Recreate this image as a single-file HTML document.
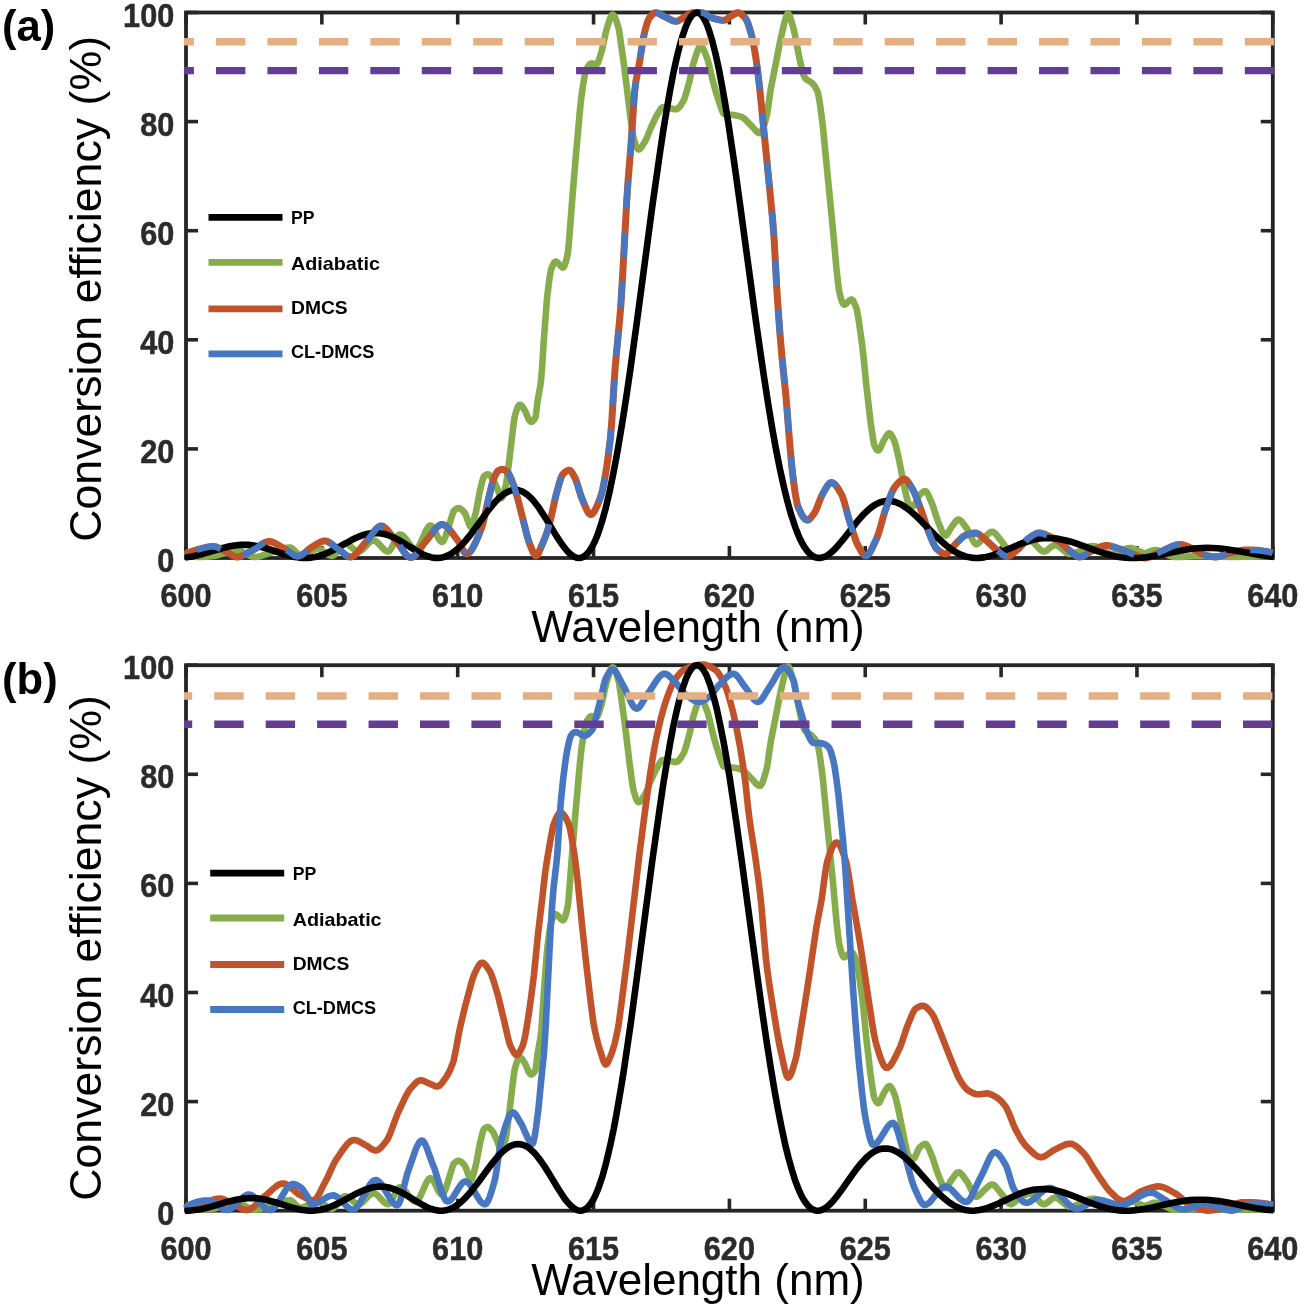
<!DOCTYPE html>
<html><head><meta charset="utf-8"><title>Conversion efficiency</title>
<style>
html,body{margin:0;padding:0;background:#fff;}
svg{display:block;}
.tk{font-family:"Liberation Sans",sans-serif;font-weight:bold;font-size:33px;fill:#2b2b2b;stroke:#2b2b2b;stroke-width:0.5px;}
.lg{font-family:"Liberation Sans",sans-serif;font-weight:bold;font-size:19px;fill:#000;}
.yl{font-family:"Liberation Sans",sans-serif;font-size:44.7px;fill:#000;}
.xl{font-family:"Liberation Sans",sans-serif;font-size:44px;fill:#000;}
.pl{font-family:"Liberation Sans",sans-serif;font-weight:bold;font-size:45px;fill:#000;}
</style></head><body>
<svg width="1300" height="1306" viewBox="0 0 1300 1306">
<rect width="1300" height="1306" fill="#fff"/>
<rect x="186.0" y="12.5" width="1086.8" height="545.5" fill="none" stroke="#262626" stroke-width="3.8"/>
<line x1="186.0" y1="558.00" x2="198.0" y2="558.00" stroke="#262626" stroke-width="3.6"/>
<line x1="1272.8" y1="558.00" x2="1260.8" y2="558.00" stroke="#262626" stroke-width="3.6"/>
<line x1="186.0" y1="448.90" x2="198.0" y2="448.90" stroke="#262626" stroke-width="3.6"/>
<line x1="1272.8" y1="448.90" x2="1260.8" y2="448.90" stroke="#262626" stroke-width="3.6"/>
<line x1="186.0" y1="339.80" x2="198.0" y2="339.80" stroke="#262626" stroke-width="3.6"/>
<line x1="1272.8" y1="339.80" x2="1260.8" y2="339.80" stroke="#262626" stroke-width="3.6"/>
<line x1="186.0" y1="230.70" x2="198.0" y2="230.70" stroke="#262626" stroke-width="3.6"/>
<line x1="1272.8" y1="230.70" x2="1260.8" y2="230.70" stroke="#262626" stroke-width="3.6"/>
<line x1="186.0" y1="121.60" x2="198.0" y2="121.60" stroke="#262626" stroke-width="3.6"/>
<line x1="1272.8" y1="121.60" x2="1260.8" y2="121.60" stroke="#262626" stroke-width="3.6"/>
<line x1="186.0" y1="12.50" x2="198.0" y2="12.50" stroke="#262626" stroke-width="3.6"/>
<line x1="1272.8" y1="12.50" x2="1260.8" y2="12.50" stroke="#262626" stroke-width="3.6"/>
<line x1="186.00" y1="558.0" x2="186.00" y2="546.0" stroke="#262626" stroke-width="3.6"/>
<line x1="186.00" y1="12.5" x2="186.00" y2="24.5" stroke="#262626" stroke-width="3.6"/>
<line x1="321.85" y1="558.0" x2="321.85" y2="546.0" stroke="#262626" stroke-width="3.6"/>
<line x1="321.85" y1="12.5" x2="321.85" y2="24.5" stroke="#262626" stroke-width="3.6"/>
<line x1="457.70" y1="558.0" x2="457.70" y2="546.0" stroke="#262626" stroke-width="3.6"/>
<line x1="457.70" y1="12.5" x2="457.70" y2="24.5" stroke="#262626" stroke-width="3.6"/>
<line x1="593.55" y1="558.0" x2="593.55" y2="546.0" stroke="#262626" stroke-width="3.6"/>
<line x1="593.55" y1="12.5" x2="593.55" y2="24.5" stroke="#262626" stroke-width="3.6"/>
<line x1="729.40" y1="558.0" x2="729.40" y2="546.0" stroke="#262626" stroke-width="3.6"/>
<line x1="729.40" y1="12.5" x2="729.40" y2="24.5" stroke="#262626" stroke-width="3.6"/>
<line x1="865.25" y1="558.0" x2="865.25" y2="546.0" stroke="#262626" stroke-width="3.6"/>
<line x1="865.25" y1="12.5" x2="865.25" y2="24.5" stroke="#262626" stroke-width="3.6"/>
<line x1="1001.10" y1="558.0" x2="1001.10" y2="546.0" stroke="#262626" stroke-width="3.6"/>
<line x1="1001.10" y1="12.5" x2="1001.10" y2="24.5" stroke="#262626" stroke-width="3.6"/>
<line x1="1136.95" y1="558.0" x2="1136.95" y2="546.0" stroke="#262626" stroke-width="3.6"/>
<line x1="1136.95" y1="12.5" x2="1136.95" y2="24.5" stroke="#262626" stroke-width="3.6"/>
<line x1="1272.80" y1="558.0" x2="1272.80" y2="546.0" stroke="#262626" stroke-width="3.6"/>
<line x1="1272.80" y1="12.5" x2="1272.80" y2="24.5" stroke="#262626" stroke-width="3.6"/>
<text class="tk" transform="translate(174.3,572.00) scale(0.93,1)" text-anchor="end">0</text>
<text class="tk" transform="translate(174.3,462.90) scale(0.93,1)" text-anchor="end">20</text>
<text class="tk" transform="translate(174.3,353.80) scale(0.93,1)" text-anchor="end">40</text>
<text class="tk" transform="translate(174.3,244.70) scale(0.93,1)" text-anchor="end">60</text>
<text class="tk" transform="translate(174.3,135.60) scale(0.93,1)" text-anchor="end">80</text>
<text class="tk" transform="translate(174.3,26.50) scale(0.93,1)" text-anchor="end">100</text>
<text class="tk" transform="translate(186.00,607.00) scale(0.93,1)" text-anchor="middle">600</text>
<text class="tk" transform="translate(321.85,607.00) scale(0.93,1)" text-anchor="middle">605</text>
<text class="tk" transform="translate(457.70,607.00) scale(0.93,1)" text-anchor="middle">610</text>
<text class="tk" transform="translate(593.55,607.00) scale(0.93,1)" text-anchor="middle">615</text>
<text class="tk" transform="translate(729.40,607.00) scale(0.93,1)" text-anchor="middle">620</text>
<text class="tk" transform="translate(865.25,607.00) scale(0.93,1)" text-anchor="middle">625</text>
<text class="tk" transform="translate(1001.10,607.00) scale(0.93,1)" text-anchor="middle">630</text>
<text class="tk" transform="translate(1136.95,607.00) scale(0.93,1)" text-anchor="middle">635</text>
<text class="tk" transform="translate(1272.80,607.00) scale(0.93,1)" text-anchor="middle">640</text>
<path d="M185.0,552.0 189.8,554.7 193.5,556.2 195.2,556.7 196.8,556.9 200.2,557.0 207.0,556.6 215.0,555.7 219.2,554.7 227.5,552.2 230.8,551.3 234.2,550.7 237.5,550.5 239.5,550.8 241.8,551.6 248.8,555.2 251.2,556.3 253.5,556.9 255.8,557.0 258.2,556.7 261.2,555.9 268.0,553.6 272.8,552.2 280.0,549.6 283.2,548.5 286.8,547.8 290.0,547.5 291.0,547.7 292.2,548.5 293.5,549.6 297.2,553.6 298.5,554.5 299.5,554.9 301.2,554.9 303.5,554.4 306.0,553.4 311.5,550.8 313.8,549.8 316.2,549.2 318.2,549.0 319.8,549.3 321.5,550.1 323.2,551.2 327.2,554.1 329.0,555.2 330.8,555.8 332.2,556.0 333.5,555.5 335.0,554.3 336.8,552.2 341.2,546.0 342.8,544.5 344.0,543.7 344.8,543.5 345.5,543.5 346.5,543.8 347.5,544.2 349.5,545.6 353.8,549.2 355.5,550.5 357.2,551.3 358.2,551.5 359.0,551.5 359.8,551.3 360.8,550.8 362.5,549.6 364.2,547.9 368.2,543.6 370.2,541.8 372.0,540.8 373.5,540.5 375.0,540.8 376.5,541.7 378.5,543.5 382.8,548.2 384.5,549.9 386.2,551.1 387.2,551.4 388.0,551.5 388.5,551.4 389.2,551.0 390.5,549.6 392.0,547.1 395.5,539.9 397.0,537.2 398.5,535.2 399.2,534.7 400.0,534.5 401.0,534.7 402.0,535.1 403.0,535.9 404.0,536.8 406.0,539.2 410.2,545.0 412.5,547.4 414.2,548.7 415.2,549.0 416.0,549.0 416.8,548.7 417.5,548.0 419.0,546.0 421.0,542.1 424.8,533.4 426.5,529.7 428.2,527.0 429.2,526.0 430.0,525.6 430.8,525.5 431.5,525.9 432.2,526.5 433.0,527.5 434.5,530.1 438.2,537.9 440.0,540.7 441.0,541.6 441.8,542.0 442.2,542.0 443.0,541.5 443.5,540.8 444.2,539.5 445.8,535.8 453.2,511.9 453.8,511.0 455.5,509.4 457.0,508.5 458.5,508.1 459.8,508.3 461.2,509.2 462.8,510.6 465.0,513.3 466.2,516.1 468.5,522.8 469.5,525.3 470.0,526.2 470.5,526.8 471.0,527.0 471.5,526.7 472.2,525.4 473.0,523.2 475.8,512.6 477.0,506.6 479.8,491.4 481.8,483.0 483.2,477.9 483.8,476.8 484.2,476.2 486.0,474.8 486.8,474.5 487.5,474.3 488.0,474.3 488.8,474.6 490.2,475.9 492.8,478.9 494.2,481.6 497.2,488.2 499.5,494.6 500.5,496.9 501.2,497.8 501.8,497.9 502.2,497.4 503.0,495.9 504.0,492.7 505.5,486.8 506.8,479.6 509.2,460.6 513.5,424.7 514.5,417.7 515.0,415.4 516.5,410.4 517.5,407.7 518.2,406.1 518.8,405.4 519.2,404.9 520.0,404.7 521.0,405.2 522.2,406.4 525.2,411.0 528.5,418.9 530.0,421.0 530.8,421.7 531.2,421.8 531.8,421.7 533.0,420.9 534.2,419.5 535.5,417.2 536.0,414.5 537.5,401.4 540.2,386.5 541.2,378.6 542.0,368.9 543.8,340.8 546.5,304.8 547.2,296.8 548.5,286.0 549.5,278.3 550.5,272.2 551.2,269.1 553.0,264.7 554.2,262.5 554.8,262.0 555.2,261.7 555.8,261.6 556.2,261.7 557.2,262.3 558.2,263.3 560.5,265.9 561.8,267.1 562.5,267.4 563.0,267.5 563.2,267.4 563.8,267.0 564.5,265.7 565.5,262.9 567.0,257.1 567.8,253.3 568.5,247.2 569.2,239.1 572.0,202.5 575.5,159.9 579.8,111.9 580.8,101.9 581.8,93.5 584.2,78.1 585.2,73.2 586.2,69.7 587.0,68.0 589.0,65.1 590.2,63.9 591.0,63.5 591.5,63.4 592.8,63.5 595.8,64.2 596.8,64.2 597.5,63.5 598.2,62.0 599.5,58.4 602.0,50.0 605.5,33.7 606.5,29.7 609.5,20.1 610.5,17.5 611.2,15.9 612.0,14.9 612.8,14.6 613.5,15.0 614.5,16.3 615.5,18.5 616.5,21.3 618.5,28.0 619.0,30.1 620.2,37.7 624.0,65.2 626.5,84.8 629.5,110.2 631.8,127.3 632.8,134.0 633.8,138.8 636.0,145.8 636.8,147.5 637.5,148.7 638.2,149.4 638.8,149.5 639.8,149.1 641.0,147.8 642.2,146.1 645.0,141.6 646.8,137.9 650.5,128.6 655.2,118.4 657.8,113.7 660.5,109.2 661.5,107.9 662.2,107.4 664.2,107.5 670.2,108.3 674.5,109.2 675.8,109.3 676.5,109.2 677.8,108.6 679.2,107.2 680.8,105.2 682.5,102.4 683.8,100.2 684.5,98.5 686.2,93.1 689.8,79.8 693.2,64.3 696.5,53.6 697.8,50.0 698.8,47.8 699.8,46.4 700.5,46.1 701.0,46.2 701.8,46.8 702.5,47.7 703.2,49.0 704.8,52.3 707.5,59.4 709.0,64.7 712.8,80.7 716.0,92.3 717.8,97.9 721.2,108.4 722.2,111.1 723.2,113.1 724.0,113.9 724.5,114.1 727.2,114.5 732.8,114.9 735.2,115.2 739.0,116.1 742.2,117.2 743.8,118.2 745.8,120.0 749.8,124.2 752.2,126.6 755.8,130.6 757.2,132.0 758.2,132.7 759.2,133.1 760.0,133.2 760.8,132.8 761.2,132.2 762.0,130.9 763.2,127.8 764.8,122.9 766.8,115.4 767.8,109.8 769.8,95.2 771.0,87.7 776.2,61.6 780.2,41.0 784.2,23.5 785.5,18.6 786.8,15.0 787.5,13.8 788.0,13.6 788.5,13.8 789.0,14.4 789.5,15.3 790.2,17.3 791.2,20.5 793.8,29.7 795.0,35.4 798.8,55.2 802.0,69.5 803.0,73.3 803.8,75.6 804.8,77.6 806.0,79.0 807.5,80.2 810.2,81.7 811.5,82.6 813.0,84.0 814.5,85.9 816.0,88.3 817.2,91.0 817.8,92.4 818.5,95.6 819.5,101.1 820.5,107.9 822.2,121.0 823.0,127.6 825.8,156.6 833.2,232.1 836.5,269.0 838.0,282.5 839.0,290.1 839.8,293.9 841.2,299.3 842.2,302.2 843.2,304.0 844.0,304.6 844.5,304.6 845.2,304.3 846.5,303.3 848.8,301.0 849.8,300.1 850.8,299.6 851.2,299.5 851.8,299.6 852.2,299.9 853.0,300.7 854.2,302.9 856.2,307.8 857.0,310.3 858.5,318.9 862.0,343.7 863.5,356.5 866.2,384.2 870.5,421.5 872.8,437.4 874.0,444.1 874.5,445.6 875.0,446.7 876.5,449.3 877.5,450.3 878.0,450.5 878.5,450.4 879.2,449.9 880.0,448.7 883.8,440.4 886.5,435.9 887.8,434.2 888.8,433.4 889.2,433.3 889.8,433.4 890.8,434.3 891.8,435.7 893.0,438.1 894.5,441.4 896.0,446.5 898.8,458.6 904.8,489.3 907.2,499.5 908.0,501.9 908.8,503.3 910.2,504.6 911.8,505.5 913.2,505.9 914.0,505.7 914.5,505.3 915.2,504.1 918.2,497.1 919.5,495.0 921.8,492.9 923.2,491.8 924.8,491.2 925.2,491.2 925.8,491.3 926.5,491.9 927.2,492.9 928.2,494.7 929.2,496.9 933.0,506.1 936.5,517.2 938.0,521.4 942.2,531.7 943.5,533.9 944.2,534.8 944.8,535.3 945.5,535.5 946.0,535.4 946.5,535.1 947.2,534.2 948.2,532.7 951.0,527.8 956.0,521.0 956.8,520.3 957.5,519.8 958.2,519.5 959.0,519.6 960.2,520.2 961.8,521.6 967.0,528.8 968.5,531.5 971.8,538.4 973.0,540.8 974.2,542.7 975.5,543.9 976.0,544.1 976.8,544.1 977.5,543.8 978.2,543.3 979.5,542.2 983.0,538.5 988.8,533.4 990.0,532.5 991.0,532.0 992.0,531.8 992.8,531.8 993.5,532.1 994.2,532.6 995.2,533.4 996.2,534.5 999.8,539.1 1002.2,542.0 1006.0,547.5 1007.8,549.7 1009.2,551.0 1010.5,551.5 1011.2,551.5 1012.0,551.3 1013.5,550.4 1015.0,549.1 1018.5,545.6 1020.2,544.3 1023.8,542.7 1026.0,541.8 1028.0,541.2 1030.0,541.0 1031.5,541.3 1033.2,542.4 1035.0,544.1 1040.0,549.4 1041.5,550.6 1043.0,551.3 1043.8,551.5 1044.5,551.5 1046.0,550.9 1047.5,549.9 1051.0,547.0 1052.5,545.9 1054.0,545.2 1054.8,545.0 1055.5,545.0 1057.2,545.5 1059.0,546.6 1060.8,548.0 1064.8,551.5 1066.5,552.8 1068.2,553.7 1069.8,554.0 1072.2,553.8 1074.8,553.1 1077.8,551.9 1084.5,548.5 1087.2,547.2 1090.2,546.3 1093.0,546.0 1095.0,546.2 1097.2,547.0 1099.8,548.3 1104.8,551.4 1107.0,552.6 1109.2,553.5 1111.5,554.0 1113.5,553.9 1115.8,553.3 1118.2,552.3 1123.2,549.9 1125.5,548.9 1127.8,548.3 1130.0,548.0 1131.5,548.1 1133.2,548.6 1135.2,549.4 1141.0,552.1 1142.8,552.7 1144.2,553.0 1145.5,553.0 1147.0,552.7 1152.0,550.6 1153.8,550.1 1155.2,550.0 1157.2,550.2 1159.0,550.7 1161.0,551.5 1167.8,554.9 1170.0,555.9 1172.2,556.6 1174.5,557.0 1180.2,556.9 1193.2,556.2 1199.0,556.0 1206.0,556.1 1222.5,556.8 1230.0,557.0 1252.8,556.8 1262.8,556.4 1272.0,556.0" fill="none" stroke="#86AC4C" stroke-width="6.6" stroke-linejoin="round"/>
<path d="M185.0,554.0 192.0,551.4 198.5,549.4 208.0,547.0 211.0,546.6 213.5,546.5 214.8,546.7 216.2,547.0 219.8,548.5 226.2,551.6 231.8,555.1 234.0,556.3 235.2,556.7 236.2,557.0 238.5,556.9 240.0,556.6 241.5,556.1 245.2,554.3 255.0,548.9 261.5,544.5 264.2,542.8 265.8,542.2 267.0,541.8 269.2,541.5 270.8,541.7 272.2,542.0 275.5,543.4 286.2,549.7 292.0,554.0 294.0,555.2 295.2,555.9 296.5,556.3 297.5,556.5 298.5,556.5 300.2,556.0 302.2,554.9 304.2,553.4 308.5,549.6 310.5,548.0 317.8,543.5 320.0,542.3 321.8,541.6 323.5,541.1 325.0,541.0 326.2,541.1 327.5,541.5 328.8,542.1 330.2,543.1 336.2,547.8 339.8,550.2 344.5,554.2 346.5,555.6 347.8,556.3 349.0,556.8 350.0,557.0 351.0,557.0 352.2,556.6 353.8,555.8 355.2,554.7 357.0,552.9 364.0,544.2 368.0,539.7 374.0,531.6 376.5,528.6 377.8,527.5 379.0,526.6 380.2,526.1 381.2,526.0 382.8,526.3 384.2,527.1 385.8,528.4 387.5,530.2 394.0,538.7 397.8,543.1 403.8,551.7 406.5,555.1 407.8,556.2 409.0,557.0 410.2,557.5 411.2,557.5 412.5,557.1 413.8,556.4 415.0,555.3 416.5,553.7 418.5,551.1 424.0,543.4 428.0,538.7 433.8,531.0 436.2,528.0 437.8,526.5 439.2,525.4 440.8,524.7 442.0,524.5 443.8,524.8 445.5,525.7 447.2,527.1 449.2,529.2 451.8,532.4 459.0,542.3 460.2,544.5 463.2,550.5 464.5,552.5 465.2,553.3 465.8,553.7 466.5,553.9 467.2,553.8 468.5,553.2 470.0,551.9 471.5,550.0 473.2,547.2 475.0,543.7 476.8,539.8 481.8,527.3 482.8,524.1 484.0,519.2 487.8,502.1 491.8,485.1 493.0,480.7 494.0,478.0 495.8,474.1 496.5,472.7 497.2,471.7 498.0,471.0 499.5,470.1 500.8,469.6 501.8,469.3 503.0,469.4 504.2,469.8 505.8,470.8 507.8,472.4 508.5,473.4 509.5,475.1 511.5,479.7 514.5,487.8 517.8,498.9 527.2,536.1 528.8,541.4 529.8,544.4 533.0,552.2 534.2,554.5 535.0,555.3 535.5,555.7 536.2,555.8 537.0,555.3 537.8,554.4 538.5,553.0 543.5,541.6 545.8,535.7 547.8,529.8 549.2,524.6 550.8,518.4 555.8,495.9 560.0,480.8 561.2,477.2 562.5,474.6 564.0,473.0 565.8,471.6 566.8,470.9 567.8,470.5 568.8,470.2 569.5,470.2 570.0,470.4 570.8,471.0 572.0,472.6 573.8,475.7 575.8,479.6 577.0,483.1 579.8,492.3 581.0,496.1 585.2,506.5 587.2,510.8 588.8,513.2 589.5,513.9 590.2,514.4 591.0,514.5 591.8,514.3 592.5,513.7 593.2,513.0 594.2,511.6 595.5,509.3 597.0,506.1 598.5,502.4 600.8,496.3 601.8,492.9 602.8,488.8 604.5,480.2 606.5,468.2 608.5,453.9 610.5,437.2 611.8,421.4 614.2,381.3 615.2,367.0 616.5,352.7 619.2,324.5 620.8,306.1 622.5,278.0 627.0,196.4 628.2,179.1 631.2,142.4 633.8,102.6 634.5,93.0 635.0,88.6 636.2,79.8 639.5,62.4 643.2,38.8 644.2,33.9 646.2,26.0 647.8,21.2 648.5,19.4 649.2,18.2 651.2,15.6 652.8,14.1 654.2,13.1 655.0,12.8 655.8,12.7 657.2,12.9 659.0,13.6 663.2,15.9 672.0,20.4 674.0,21.1 676.0,21.3 677.5,21.1 679.2,20.3 690.0,13.7 691.2,13.1 692.5,12.7 701.5,12.7 702.8,12.9 705.0,13.8 710.2,17.2 712.5,18.2 719.0,19.8 721.2,20.2 723.5,20.3 725.0,20.0 726.5,19.3 731.0,16.2 735.8,13.3 737.2,12.7 738.5,12.8 740.0,13.3 741.8,14.5 743.8,16.4 746.0,19.1 747.0,21.0 748.0,23.4 750.2,30.4 752.2,37.9 754.2,47.9 756.0,58.6 757.8,71.9 759.8,89.4 770.0,192.2 772.8,221.5 774.2,240.7 777.0,292.1 778.5,314.3 780.0,334.1 782.0,357.4 786.0,396.6 789.2,437.1 791.2,460.1 792.5,472.9 793.5,481.0 795.2,493.4 796.5,500.7 797.5,505.1 798.0,506.7 798.8,508.5 801.2,513.8 803.2,517.1 805.0,519.0 805.8,519.6 806.5,519.9 807.2,520.1 808.0,520.0 808.8,519.7 809.5,519.2 811.5,517.0 814.5,512.9 815.5,511.1 817.0,507.7 820.2,499.1 821.8,495.6 822.5,494.1 827.0,486.4 828.8,484.1 829.5,483.3 830.2,482.8 831.0,482.5 831.8,482.5 832.5,482.7 833.2,483.1 834.2,483.8 835.2,484.7 837.5,487.6 841.2,493.7 842.5,496.4 844.5,502.7 848.0,515.8 849.5,521.0 854.8,537.4 856.2,541.6 857.5,544.5 861.0,550.9 862.2,552.9 863.2,554.2 864.2,555.2 865.0,555.6 865.8,555.8 866.8,555.6 867.8,555.0 868.8,553.9 869.8,552.6 871.0,550.5 873.2,546.0 877.5,536.5 879.5,530.4 883.5,515.9 885.0,511.0 890.0,497.1 891.5,493.3 893.0,490.0 894.0,488.2 895.0,486.7 897.5,483.8 899.5,481.8 901.0,480.6 902.2,479.8 903.5,479.3 904.8,479.2 905.5,479.4 906.5,480.1 908.2,482.2 912.8,489.5 914.5,493.0 916.8,498.4 921.5,511.2 926.8,526.9 928.5,531.7 932.5,541.4 934.5,545.6 936.2,548.3 938.5,550.4 941.5,552.6 943.0,553.4 944.2,553.8 945.5,553.9 946.2,553.8 947.2,553.3 948.2,552.6 950.0,550.7 954.8,544.7 960.8,538.7 963.5,536.4 965.2,535.5 969.8,533.9 972.5,533.2 975.0,533.0 976.0,533.1 977.2,533.5 978.5,534.1 979.8,534.9 988.2,542.1 994.8,548.4 997.2,550.6 1003.5,555.1 1005.2,556.0 1006.8,556.4 1008.2,556.3 1009.8,555.7 1011.2,554.8 1013.2,553.2 1018.8,548.6 1025.8,540.9 1027.2,539.4 1028.8,538.2 1033.0,535.3 1035.0,534.2 1037.0,533.3 1039.0,533.0 1041.5,533.3 1044.5,534.2 1052.5,537.7 1057.0,540.1 1059.8,541.8 1061.2,542.9 1068.5,549.8 1074.5,554.5 1077.2,556.3 1078.5,556.8 1079.5,557.0 1081.2,556.8 1083.0,556.2 1084.5,555.4 1089.0,552.5 1099.8,547.0 1103.0,545.9 1105.8,545.5 1107.5,545.6 1109.5,545.8 1114.2,547.1 1122.8,550.0 1132.2,554.0 1140.2,557.0 1142.5,557.7 1144.5,558.0 1145.8,558.0 1147.2,557.7 1150.2,556.8 1158.2,552.8 1162.5,550.9 1169.8,547.4 1173.0,546.0 1176.5,544.9 1179.5,544.5 1181.0,544.5 1182.8,544.8 1184.5,545.3 1186.5,546.0 1196.0,550.5 1201.8,553.6 1204.2,554.8 1209.8,556.3 1213.5,556.9 1216.0,557.0 1218.5,556.6 1221.0,555.9 1226.8,553.9 1229.2,553.2 1239.5,550.8 1242.5,550.3 1245.0,550.1 1252.5,550.1 1260.0,550.6 1266.5,551.5 1272.5,553.0" fill="none" stroke="#C0532A" stroke-width="7.0" stroke-linejoin="round"/>
<path d="M185.0,557.6 191.8,556.6 198.8,555.1 205.5,553.2 221.0,548.5 228.8,546.5 232.8,545.8 236.8,545.2 240.5,544.9 244.2,544.7 248.2,544.9 252.2,545.3 256.5,545.9 260.8,546.8 268.5,549.0 286.0,554.8 290.5,556.0 294.8,557.0 299.0,557.6 303.2,558.0 307.2,558.0 311.2,557.6 315.0,557.0 319.0,556.0 323.0,554.7 327.2,553.0 331.0,551.2 335.0,549.2 352.0,539.8 356.2,537.8 360.2,536.1 364.2,534.7 368.0,533.8 371.8,533.2 375.5,533.0 379.8,533.2 384.0,534.0 388.2,535.2 392.8,537.0 396.5,538.8 400.8,541.2 414.0,549.4 418.5,552.1 422.8,554.3 426.8,556.0 430.8,557.2 434.8,557.9 438.5,558.0 442.0,557.5 444.5,556.9 447.0,555.9 449.2,554.8 451.8,553.4 454.2,551.6 456.8,549.6 459.2,547.4 461.8,544.9 466.0,540.2 470.8,534.3 475.2,528.3 485.5,514.1 490.5,507.6 495.2,501.9 499.5,497.6 503.5,494.3 505.5,493.0 507.5,491.9 509.5,491.0 511.2,490.4 513.2,490.0 515.0,489.9 517.2,490.0 519.5,490.5 521.8,491.3 524.0,492.4 526.2,493.9 528.8,496.0 531.0,498.1 533.5,500.8 537.8,506.2 542.2,512.8 546.5,519.5 556.2,535.6 561.2,543.3 563.8,546.7 566.0,549.6 568.2,552.1 570.2,554.0 572.5,555.7 574.8,557.0 577.0,557.8 579.0,558.0 581.2,557.7 583.2,556.9 585.2,555.6 587.2,553.7 589.2,551.3 591.0,548.6 593.0,545.1 594.8,541.5 596.8,536.8 598.5,532.2 602.0,521.5 605.8,507.8 609.5,492.0 613.2,474.1 617.0,454.1 620.2,435.3 623.5,415.2 627.0,392.3 630.5,368.2 637.0,321.1 652.2,207.0 659.8,153.9 663.2,130.9 666.8,109.3 670.0,90.8 673.2,73.9 676.5,58.8 679.5,46.5 682.5,36.1 685.5,27.4 687.0,23.8 688.5,20.7 690.0,18.1 691.2,16.3 692.8,14.6 694.2,13.4 695.8,12.7 697.0,12.5 698.5,12.8 700.0,13.6 701.5,15.0 703.0,17.0 704.5,19.5 706.0,22.5 707.5,26.1 709.2,30.9 712.2,40.8 715.5,53.7 718.8,68.7 722.2,86.9 725.0,102.6 728.0,121.0 734.2,162.6 740.2,205.6 755.5,318.2 759.8,348.3 763.8,375.5 768.0,402.8 772.2,428.3 776.2,450.4 780.0,469.4 783.8,486.5 787.5,501.7 791.0,514.3 794.8,525.8 796.5,530.5 798.5,535.5 800.2,539.3 802.2,543.3 804.0,546.3 806.0,549.3 807.8,551.6 809.8,553.7 811.8,555.4 814.0,556.8 816.2,557.6 818.5,558.0 820.8,557.9 823.2,557.3 825.8,556.2 828.2,554.7 830.5,553.1 832.8,551.1 835.2,548.6 837.8,545.9 843.0,539.7 853.5,526.2 858.2,520.4 863.2,514.7 867.8,510.3 870.5,508.0 873.0,506.1 875.8,504.4 878.2,503.1 880.8,502.1 883.2,501.4 885.8,501.0 888.2,500.8 890.2,500.9 892.2,501.2 894.2,501.7 896.5,502.4 900.8,504.3 905.2,507.1 910.0,510.6 915.2,515.2 920.8,520.6 932.5,532.6 937.8,537.8 943.2,542.9 948.2,547.0 951.2,549.2 954.2,551.1 957.2,552.9 960.0,554.2 962.8,555.4 965.5,556.3 968.2,557.1 971.2,557.6 975.2,558.0 979.5,557.9 984.0,557.4 988.5,556.4 993.0,555.1 998.0,553.3 1003.2,551.2 1018.5,544.7 1023.5,542.8 1028.0,541.3 1033.2,539.8 1038.2,538.8 1043.2,538.2 1048.0,538.0 1052.2,538.2 1056.8,538.6 1061.2,539.4 1066.0,540.4 1070.8,541.7 1076.0,543.4 1096.8,550.9 1106.0,553.9 1111.0,555.3 1116.0,556.4 1121.0,557.2 1125.8,557.7 1130.5,558.0 1135.5,558.0 1140.5,557.7 1145.8,557.2 1150.8,556.5 1156.2,555.6 1177.5,551.2 1187.0,549.6 1192.2,548.8 1197.2,548.3 1202.2,548.0 1207.2,547.9 1212.2,548.0 1217.2,548.2 1222.5,548.7 1228.0,549.4 1237.8,550.9 1261.2,555.2 1267.5,556.1 1273.5,556.9" fill="none" stroke="#000000" stroke-width="6.6" stroke-linejoin="round"/>
<path d="M185.0,554.0 192.0,551.4 198.5,549.4 208.0,547.0 211.0,546.6 213.5,546.5 214.8,546.7 216.2,547.0 219.8,548.5 226.2,551.6 231.8,555.1 234.0,556.3 235.2,556.7 236.2,557.0 238.5,556.9 240.0,556.6 241.5,556.1 245.2,554.3 255.0,548.9 261.5,544.5 264.2,542.8 265.8,542.2 267.0,541.8 269.2,541.5 270.8,541.7 272.2,542.0 275.5,543.4 286.2,549.7 292.0,554.0 294.0,555.2 295.2,555.9 296.5,556.3 297.5,556.5 298.5,556.5 300.2,556.0 302.2,554.9 304.2,553.4 308.5,549.6 310.5,548.0 317.8,543.5 320.0,542.3 321.8,541.6 323.5,541.1 325.0,541.0 326.2,541.1 327.5,541.5 328.8,542.1 330.2,543.1 336.2,547.8 339.8,550.2 344.5,554.2 346.5,555.6 347.8,556.3 349.0,556.8 350.0,557.0 351.0,557.0 352.2,556.6 353.8,555.8 355.2,554.7 357.0,552.9 364.0,544.2 368.0,539.7 374.0,531.6 376.5,528.6 377.8,527.5 379.0,526.6 380.2,526.1 381.2,526.0 382.8,526.3 384.2,527.1 385.8,528.4 387.5,530.2 394.0,538.7 397.8,543.1 403.8,551.7 406.5,555.1 407.8,556.2 409.0,557.0 410.2,557.5 411.2,557.5 412.5,557.1 413.8,556.4 415.0,555.3 416.5,553.7 418.5,551.1 424.0,543.4 428.0,538.7 433.8,531.0 436.2,528.0 437.8,526.5 439.2,525.4 440.8,524.7 442.0,524.5 443.8,524.8 445.8,525.9 447.8,527.6 450.0,530.1 459.0,542.3 460.2,544.5 463.8,551.3 465.0,553.1 466.0,553.8" fill="none" stroke="#4677C0" stroke-width="6.4" stroke-linejoin="round" stroke-dasharray="24.9 24.30" stroke-dashoffset="36.71"/>
<path d="M466.0,553.8 466.5,553.9 467.2,553.8 468.5,553.2 469.8,552.2 471.2,550.4 472.8,548.1 474.2,545.3 477.8,537.5 481.8,527.3 483.0,523.2 484.2,518.1 487.5,503.2 491.2,487.2 492.2,483.2 493.2,479.9 495.2,475.1 496.2,473.2 497.0,472.0 497.5,471.4 498.2,470.9 499.5,470.1 500.8,469.6 502.2,469.3 503.8,469.6 505.5,470.6 507.5,472.2 508.2,473.0 509.0,474.2 511.0,478.5 514.5,487.8 517.8,498.9 527.2,536.1 529.0,542.2 530.0,545.0 533.0,552.2 534.2,554.5 535.0,555.3 535.5,555.7 536.2,555.8 537.0,555.3 537.8,554.4 538.5,553.0 543.5,541.6 545.8,535.7 547.8,529.8 549.2,524.6 550.8,518.4 555.8,495.9 560.0,480.8 561.2,477.2 562.2,475.0 563.0,474.0 565.5,471.7 566.8,470.9 567.8,470.5 568.8,470.2 569.5,470.2 570.2,470.6 571.0,471.3 572.5,473.4 575.2,478.5 576.0,480.2 577.2,483.9 580.8,495.4 586.0,508.3 587.5,511.3 588.8,513.2 590.0,514.3 590.5,514.5 591.0,514.5" fill="none" stroke="#4677C0" stroke-width="6.4" stroke-linejoin="round" stroke-dasharray="24.9 24.30" stroke-dashoffset="45.47"/>
<path d="M591.0,514.5 592.0,514.1 593.2,513.0 594.5,511.2 595.8,508.8 597.5,504.9 600.0,498.5 601.0,495.5 602.0,491.9 604.0,482.9 606.0,471.4 608.0,457.7 610.2,439.6 611.0,431.6 611.8,421.4 614.2,381.3 615.2,367.0 616.5,352.7 619.5,321.7 621.0,302.6 624.0,251.5 626.5,204.5 628.0,182.4" fill="none" stroke="#4677C0" stroke-width="6.4" stroke-linejoin="round" stroke-dasharray="24.9 24.30" stroke-dashoffset="34.02"/>
<path d="M628.0,182.4 631.5,139.0 634.0,99.1 634.5,93.0 635.2,86.6 636.5,78.4 639.5,62.4 642.5,43.2 643.8,36.2 645.5,28.8 647.0,23.4 648.2,20.0 649.2,18.2 651.2,15.6 653.0,13.9 654.0,13.2 654.8,12.9 655.5,12.7 656.2,12.7 657.5,13.0 659.0,13.6 663.2,15.9 672.0,20.4 674.5,21.2 676.5,21.3 678.0,20.9 679.8,20.1 689.5,14.0 691.5,13.0 693.0,12.7 701.8,12.7 703.2,13.0 704.8,13.6 710.2,17.2 712.5,18.2 719.0,19.8 721.5,20.2 723.8,20.3 725.0,20.0 726.2,19.5 731.0,16.2 735.2,13.6 736.5,13.0 737.8,12.7 738.8,12.8 739.8,13.2 741.8,14.5 743.2,15.9 744.8,17.5 745.8,18.7 746.5,19.9 748.2,24.1 750.2,30.4 752.0,36.8 753.5,43.8 755.2,53.7 756.5,62.2 758.2,76.0 759.8,89.4 762.8,120.3 769.2,184.4 773.0,224.4 774.5,244.6 777.0,292.1 779.8,331.0 782.0,357.4 786.0,396.6 789.2,437.1 791.5,462.8 792.8,475.2 795.5,494.9 796.8,501.9 797.8,505.9 800.0,511.3 802.2,515.5 803.2,517.1 804.2,518.3 805.2,519.2 806.0,519.7" fill="none" stroke="#4677C0" stroke-width="6.4" stroke-linejoin="round" stroke-dasharray="24.9 24.30" stroke-dashoffset="22.13"/>
<path d="M806.0,519.7 807.0,520.1 807.8,520.1 808.5,519.8 809.5,519.2 811.5,517.0 814.5,512.9 815.5,511.1 816.5,508.9 820.5,498.5 822.0,495.1 826.0,488.1 828.0,485.0 829.5,483.3 830.8,482.6 831.2,482.5 832.0,482.6 833.2,483.1 834.2,483.8 835.2,484.7 837.5,487.6 841.2,493.7 842.5,496.4 844.5,502.7 848.0,515.8 849.5,521.0 854.8,537.4 856.2,541.6 857.5,544.5 861.0,550.9 862.2,552.9 863.2,554.2 864.2,555.2 865.0,555.6 865.8,555.8 866.8,555.6 867.8,555.0 868.8,553.9 869.8,552.6 871.0,550.5 873.2,546.0 877.5,536.5 879.5,530.4 883.5,515.9 885.0,511.0 890.0,497.1 891.5,493.3 893.0,490.0 894.0,488.2 895.0,486.7 897.5,483.8 899.5,481.8 901.0,480.6 902.2,479.8 903.5,479.3 904.8,479.2 905.5,479.4 906.2,479.9 908.0,481.8 910.0,484.9 912.8,489.5 913.8,491.4 916.5,497.8 921.5,511.2 928.2,531.1 932.5,541.4 934.2,545.1 935.8,547.7 936.8,548.9 939.8,551.4 941.8,552.7 943.8,553.6 945.5,553.9 946.2,553.8 947.0,553.5 948.2,552.6 949.5,551.3 954.8,544.7 960.8,538.7 963.2,536.6 965.0,535.6 969.8,533.9 972.8,533.2 975.5,533.0 976.5,533.2 977.8,533.7 979.0,534.4 980.5,535.5 988.2,542.1 996.2,549.7 1001.8,553.9 1003.5,555.1 1004.8,555.8 1006.0,556.3 1007.0,556.4" fill="none" stroke="#4677C0" stroke-width="6.4" stroke-linejoin="round" stroke-dasharray="24.9 24.30" stroke-dashoffset="20.15"/>
<path d="M1007.0,556.4 1008.8,556.1 1010.8,555.1 1012.8,553.7 1017.5,549.7 1020.0,547.3 1026.0,540.6 1028.8,538.2 1033.0,535.3 1035.0,534.2 1037.0,533.3 1039.0,533.0 1041.5,533.3 1044.5,534.2 1052.5,537.7 1057.0,540.1 1059.8,541.8 1061.2,542.9 1068.5,549.8 1074.5,554.5 1077.2,556.3 1078.5,556.8 1079.5,557.0 1081.2,556.8 1083.0,556.2 1084.5,555.4 1089.0,552.5 1099.8,547.0 1103.0,545.9 1105.8,545.5 1107.5,545.6 1109.5,545.8 1114.2,547.1 1122.8,550.0 1132.2,554.0 1140.2,557.0 1142.5,557.7 1144.5,558.0 1145.8,558.0 1147.2,557.7 1150.2,556.8 1158.2,552.8 1162.5,550.9 1169.8,547.4 1173.0,546.0 1176.5,544.9 1179.5,544.5 1181.0,544.5 1182.8,544.8 1184.5,545.3 1186.5,546.0 1196.0,550.5 1201.8,553.6 1204.2,554.8 1209.8,556.3 1213.5,556.9 1216.0,557.0 1218.5,556.6 1221.0,555.9 1226.8,553.9 1229.2,553.2 1239.5,550.8 1242.5,550.3 1245.0,550.1 1252.5,550.1 1260.0,550.6 1266.5,551.5 1272.5,553.0" fill="none" stroke="#4677C0" stroke-width="6.4" stroke-linejoin="round" stroke-dasharray="24.9 24.30" stroke-dashoffset="25.13"/>
<line x1="184.0" y1="41.70" x2="1274.3" y2="41.70" stroke="#E4AF82" stroke-width="7.4" stroke-dasharray="29.4 22.04" stroke-dashoffset="19.44"/>
<line x1="184.0" y1="70.60" x2="1274.3" y2="70.60" stroke="#643C96" stroke-width="7.4" stroke-dasharray="29.4 22.04" stroke-dashoffset="19.44"/>
<line x1="208.5" y1="217.40" x2="282.5" y2="217.40" stroke="#000000" stroke-width="6.8"/>
<text class="lg" transform="translate(291.0,224.20) scale(0.93,1)">PP</text>
<line x1="208.5" y1="262.30" x2="282.5" y2="262.30" stroke="#86AC4C" stroke-width="6.8"/>
<text class="lg" transform="translate(291.0,269.80) scale(1.04,1)">Adiabatic</text>
<line x1="208.5" y1="308.80" x2="282.5" y2="308.80" stroke="#C0532A" stroke-width="6.8"/>
<text class="lg" transform="translate(291.0,314.20) scale(1.013,1)">DMCS</text>
<line x1="208.5" y1="353.80" x2="282.5" y2="353.80" stroke="#4677C0" stroke-width="6.8"/>
<text class="lg" transform="translate(291.0,357.90) scale(0.953,1)">CL-DMCS</text>
<text class="yl" transform="translate(100.5,288.90) rotate(-90)" text-anchor="middle">Conversion efficiency (%)</text>
<text class="xl" x="698" y="642.00" text-anchor="middle">Wavelength (nm)</text>
<text class="pl" transform="translate(2,41.00) scale(0.97,1)">(a)</text>
<rect x="186.0" y="665.2" width="1086.8" height="545.5" fill="none" stroke="#262626" stroke-width="3.8"/>
<line x1="186.0" y1="1210.70" x2="198.0" y2="1210.70" stroke="#262626" stroke-width="3.6"/>
<line x1="1272.8" y1="1210.70" x2="1260.8" y2="1210.70" stroke="#262626" stroke-width="3.6"/>
<line x1="186.0" y1="1101.60" x2="198.0" y2="1101.60" stroke="#262626" stroke-width="3.6"/>
<line x1="1272.8" y1="1101.60" x2="1260.8" y2="1101.60" stroke="#262626" stroke-width="3.6"/>
<line x1="186.0" y1="992.50" x2="198.0" y2="992.50" stroke="#262626" stroke-width="3.6"/>
<line x1="1272.8" y1="992.50" x2="1260.8" y2="992.50" stroke="#262626" stroke-width="3.6"/>
<line x1="186.0" y1="883.40" x2="198.0" y2="883.40" stroke="#262626" stroke-width="3.6"/>
<line x1="1272.8" y1="883.40" x2="1260.8" y2="883.40" stroke="#262626" stroke-width="3.6"/>
<line x1="186.0" y1="774.30" x2="198.0" y2="774.30" stroke="#262626" stroke-width="3.6"/>
<line x1="1272.8" y1="774.30" x2="1260.8" y2="774.30" stroke="#262626" stroke-width="3.6"/>
<line x1="186.0" y1="665.20" x2="198.0" y2="665.20" stroke="#262626" stroke-width="3.6"/>
<line x1="1272.8" y1="665.20" x2="1260.8" y2="665.20" stroke="#262626" stroke-width="3.6"/>
<line x1="186.00" y1="1210.7" x2="186.00" y2="1198.7" stroke="#262626" stroke-width="3.6"/>
<line x1="186.00" y1="665.2" x2="186.00" y2="677.2" stroke="#262626" stroke-width="3.6"/>
<line x1="321.85" y1="1210.7" x2="321.85" y2="1198.7" stroke="#262626" stroke-width="3.6"/>
<line x1="321.85" y1="665.2" x2="321.85" y2="677.2" stroke="#262626" stroke-width="3.6"/>
<line x1="457.70" y1="1210.7" x2="457.70" y2="1198.7" stroke="#262626" stroke-width="3.6"/>
<line x1="457.70" y1="665.2" x2="457.70" y2="677.2" stroke="#262626" stroke-width="3.6"/>
<line x1="593.55" y1="1210.7" x2="593.55" y2="1198.7" stroke="#262626" stroke-width="3.6"/>
<line x1="593.55" y1="665.2" x2="593.55" y2="677.2" stroke="#262626" stroke-width="3.6"/>
<line x1="729.40" y1="1210.7" x2="729.40" y2="1198.7" stroke="#262626" stroke-width="3.6"/>
<line x1="729.40" y1="665.2" x2="729.40" y2="677.2" stroke="#262626" stroke-width="3.6"/>
<line x1="865.25" y1="1210.7" x2="865.25" y2="1198.7" stroke="#262626" stroke-width="3.6"/>
<line x1="865.25" y1="665.2" x2="865.25" y2="677.2" stroke="#262626" stroke-width="3.6"/>
<line x1="1001.10" y1="1210.7" x2="1001.10" y2="1198.7" stroke="#262626" stroke-width="3.6"/>
<line x1="1001.10" y1="665.2" x2="1001.10" y2="677.2" stroke="#262626" stroke-width="3.6"/>
<line x1="1136.95" y1="1210.7" x2="1136.95" y2="1198.7" stroke="#262626" stroke-width="3.6"/>
<line x1="1136.95" y1="665.2" x2="1136.95" y2="677.2" stroke="#262626" stroke-width="3.6"/>
<line x1="1272.80" y1="1210.7" x2="1272.80" y2="1198.7" stroke="#262626" stroke-width="3.6"/>
<line x1="1272.80" y1="665.2" x2="1272.80" y2="677.2" stroke="#262626" stroke-width="3.6"/>
<text class="tk" transform="translate(174.3,1224.70) scale(0.93,1)" text-anchor="end">0</text>
<text class="tk" transform="translate(174.3,1115.60) scale(0.93,1)" text-anchor="end">20</text>
<text class="tk" transform="translate(174.3,1006.50) scale(0.93,1)" text-anchor="end">40</text>
<text class="tk" transform="translate(174.3,897.40) scale(0.93,1)" text-anchor="end">60</text>
<text class="tk" transform="translate(174.3,788.30) scale(0.93,1)" text-anchor="end">80</text>
<text class="tk" transform="translate(174.3,679.20) scale(0.93,1)" text-anchor="end">100</text>
<text class="tk" transform="translate(186.00,1259.70) scale(0.93,1)" text-anchor="middle">600</text>
<text class="tk" transform="translate(321.85,1259.70) scale(0.93,1)" text-anchor="middle">605</text>
<text class="tk" transform="translate(457.70,1259.70) scale(0.93,1)" text-anchor="middle">610</text>
<text class="tk" transform="translate(593.55,1259.70) scale(0.93,1)" text-anchor="middle">615</text>
<text class="tk" transform="translate(729.40,1259.70) scale(0.93,1)" text-anchor="middle">620</text>
<text class="tk" transform="translate(865.25,1259.70) scale(0.93,1)" text-anchor="middle">625</text>
<text class="tk" transform="translate(1001.10,1259.70) scale(0.93,1)" text-anchor="middle">630</text>
<text class="tk" transform="translate(1136.95,1259.70) scale(0.93,1)" text-anchor="middle">635</text>
<text class="tk" transform="translate(1272.80,1259.70) scale(0.93,1)" text-anchor="middle">640</text>
<path d="M185.0,1204.7 189.8,1207.4 193.5,1208.9 195.2,1209.4 196.8,1209.6 200.2,1209.7 207.0,1209.3 215.0,1208.4 219.2,1207.4 227.5,1204.9 230.8,1204.0 234.2,1203.4 237.5,1203.2 239.5,1203.5 241.8,1204.3 248.8,1207.9 251.2,1209.0 253.5,1209.6 255.8,1209.7 258.2,1209.4 261.2,1208.6 268.0,1206.3 272.8,1204.9 280.0,1202.3 283.2,1201.2 286.8,1200.5 290.0,1200.2 291.0,1200.4 292.2,1201.2 293.5,1202.3 297.2,1206.3 298.5,1207.2 299.5,1207.6 301.2,1207.6 303.5,1207.1 306.0,1206.1 311.5,1203.5 313.8,1202.5 316.2,1201.9 318.2,1201.7 319.8,1202.0 321.5,1202.8 323.2,1203.9 327.2,1206.8 329.0,1207.9 330.8,1208.5 332.2,1208.7 333.5,1208.2 335.0,1207.0 336.8,1204.9 341.2,1198.7 342.8,1197.2 344.0,1196.4 344.8,1196.2 345.5,1196.2 346.5,1196.5 347.5,1196.9 349.5,1198.3 353.8,1201.9 355.5,1203.2 357.2,1204.0 358.2,1204.2 359.0,1204.2 359.8,1204.0 360.8,1203.5 362.5,1202.3 364.2,1200.6 368.2,1196.3 370.2,1194.5 372.0,1193.5 373.5,1193.2 375.0,1193.5 376.5,1194.4 378.5,1196.2 382.8,1200.9 384.5,1202.6 386.2,1203.8 387.2,1204.1 388.0,1204.2 388.5,1204.1 389.2,1203.7 390.5,1202.3 392.0,1199.8 395.5,1192.6 397.0,1189.9 398.5,1187.9 399.2,1187.4 400.0,1187.2 401.0,1187.4 402.0,1187.8 403.0,1188.6 404.0,1189.5 406.0,1191.9 410.2,1197.7 412.5,1200.1 414.2,1201.4 415.2,1201.7 416.0,1201.7 416.8,1201.4 417.5,1200.7 419.0,1198.7 421.0,1194.8 424.8,1186.1 426.5,1182.4 428.2,1179.7 429.2,1178.7 430.0,1178.3 430.8,1178.2 431.5,1178.6 432.2,1179.2 433.0,1180.2 434.5,1182.8 438.2,1190.6 440.0,1193.4 441.0,1194.3 441.8,1194.7 442.2,1194.7 443.0,1194.2 443.5,1193.5 444.2,1192.2 445.8,1188.5 453.2,1164.6 453.8,1163.7 455.5,1162.1 457.0,1161.2 458.5,1160.8 459.8,1161.0 461.2,1161.9 462.8,1163.3 465.0,1166.0 466.2,1168.8 468.5,1175.5 469.5,1178.0 470.0,1178.9 470.5,1179.5 471.0,1179.7 471.5,1179.4 472.2,1178.1 473.0,1175.9 475.8,1165.3 477.0,1159.3 479.8,1144.1 481.8,1135.7 483.2,1130.6 483.8,1129.5 484.2,1128.9 486.0,1127.5 486.8,1127.2 487.5,1127.0 488.0,1127.0 488.8,1127.3 490.2,1128.6 492.8,1131.6 494.2,1134.3 497.2,1140.9 499.5,1147.3 500.5,1149.6 501.2,1150.5 501.8,1150.6 502.2,1150.1 503.0,1148.6 504.0,1145.4 505.5,1139.5 506.8,1132.3 509.2,1113.3 513.5,1077.4 514.5,1070.4 515.0,1068.1 516.5,1063.1 517.5,1060.4 518.2,1058.8 518.8,1058.1 519.2,1057.6 520.0,1057.4 521.0,1057.9 522.2,1059.1 525.2,1063.7 528.5,1071.6 530.0,1073.7 530.8,1074.4 531.2,1074.5 531.8,1074.4 533.0,1073.6 534.2,1072.2 535.5,1069.9 536.0,1067.2 537.5,1054.1 540.2,1039.2 541.2,1031.3 542.0,1021.6 543.8,993.5 546.5,957.5 547.2,949.5 548.5,938.7 549.5,931.0 550.5,924.9 551.2,921.8 553.0,917.4 554.2,915.2 554.8,914.7 555.2,914.4 555.8,914.3 556.2,914.4 557.2,915.0 558.2,916.0 560.5,918.6 561.8,919.8 562.5,920.1 563.0,920.2 563.2,920.1 563.8,919.7 564.5,918.4 565.5,915.6 567.0,909.8 567.8,906.0 568.5,899.9 569.2,891.8 572.0,855.2 575.5,812.6 579.8,764.6 580.8,754.6 581.8,746.2 584.2,730.8 585.2,725.9 586.2,722.4 587.0,720.7 589.0,717.8 590.2,716.6 591.0,716.2 591.5,716.1 592.8,716.2 595.8,716.9 596.8,716.9 597.5,716.2 598.2,714.7 599.5,711.1 602.0,702.7 605.5,686.4 606.5,682.4 609.5,672.8 610.5,670.2 611.2,668.6 612.0,667.6 612.8,667.3 613.5,667.7 614.5,669.0 615.5,671.2 616.5,674.0 618.5,680.7 619.0,682.8 620.2,690.4 624.0,717.9 626.5,737.5 629.5,762.9 631.8,780.0 632.8,786.7 633.8,791.5 636.0,798.5 636.8,800.2 637.5,801.4 638.2,802.1 638.8,802.2 639.8,801.8 641.0,800.5 642.2,798.8 645.0,794.3 646.8,790.6 650.5,781.3 655.2,771.1 657.8,766.4 660.5,761.9 661.5,760.6 662.2,760.1 664.2,760.2 670.2,761.0 674.5,761.9 675.8,762.0 676.5,761.9 677.8,761.3 679.2,759.9 680.8,757.9 682.5,755.1 683.8,752.9 684.5,751.2 686.2,745.8 689.8,732.5 693.2,717.0 696.5,706.3 697.8,702.7 698.8,700.5 699.8,699.1 700.5,698.8 701.0,698.9 701.8,699.5 702.5,700.4 703.2,701.7 704.8,705.0 707.5,712.1 709.0,717.4 712.8,733.4 716.0,745.0 717.8,750.6 721.2,761.1 722.2,763.8 723.2,765.8 724.0,766.6 724.5,766.8 727.2,767.2 732.8,767.6 735.2,767.9 739.0,768.8 742.2,769.9 743.8,770.9 745.8,772.7 749.8,776.9 752.2,779.3 755.8,783.3 757.2,784.7 758.2,785.4 759.2,785.8 760.0,785.9 760.8,785.5 761.2,784.9 762.0,783.6 763.2,780.5 764.8,775.6 766.8,768.1 767.8,762.5 769.8,747.9 771.0,740.4 776.2,714.3 780.2,693.7 784.2,676.2 785.5,671.3 786.8,667.7 787.5,666.5 788.0,666.3 788.5,666.5 789.0,667.1 789.5,668.0 790.2,670.0 791.2,673.2 793.8,682.4 795.0,688.1 798.8,707.9 802.0,722.2 803.0,726.0 803.8,728.3 804.8,730.3 806.0,731.7 807.5,732.9 810.2,734.4 811.5,735.3 813.0,736.7 814.5,738.6 816.0,741.0 817.2,743.7 817.8,745.1 818.5,748.3 819.5,753.8 820.5,760.6 822.2,773.7 823.0,780.3 825.8,809.3 833.2,884.8 836.5,921.7 838.0,935.2 839.0,942.8 839.8,946.6 841.2,952.0 842.2,954.9 843.2,956.7 844.0,957.3 844.5,957.3 845.2,957.0 846.5,956.0 848.8,953.7 849.8,952.8 850.8,952.3 851.2,952.2 851.8,952.3 852.2,952.6 853.0,953.4 854.2,955.6 856.2,960.5 857.0,963.0 858.5,971.6 862.0,996.4 863.5,1009.2 866.2,1036.9 870.5,1074.2 872.8,1090.1 874.0,1096.8 874.5,1098.3 875.0,1099.4 876.5,1102.0 877.5,1103.0 878.0,1103.2 878.5,1103.1 879.2,1102.6 880.0,1101.4 883.8,1093.1 886.5,1088.6 887.8,1086.9 888.8,1086.1 889.2,1086.0 889.8,1086.1 890.8,1087.0 891.8,1088.4 893.0,1090.8 894.5,1094.1 896.0,1099.2 898.8,1111.3 904.8,1142.0 907.2,1152.2 908.0,1154.6 908.8,1156.0 910.2,1157.3 911.8,1158.2 913.2,1158.6 914.0,1158.4 914.5,1158.0 915.2,1156.8 918.2,1149.8 919.5,1147.7 921.8,1145.6 923.2,1144.5 924.8,1143.9 925.2,1143.9 925.8,1144.0 926.5,1144.6 927.2,1145.6 928.2,1147.4 929.2,1149.6 933.0,1158.8 936.5,1169.9 938.0,1174.1 942.2,1184.4 943.5,1186.6 944.2,1187.5 944.8,1188.0 945.5,1188.2 946.0,1188.1 946.5,1187.8 947.2,1186.9 948.2,1185.4 951.0,1180.5 956.0,1173.7 956.8,1173.0 957.5,1172.5 958.2,1172.2 959.0,1172.3 960.2,1172.9 961.8,1174.3 967.0,1181.5 968.5,1184.2 971.8,1191.1 973.0,1193.5 974.2,1195.4 975.5,1196.6 976.0,1196.8 976.8,1196.8 977.5,1196.5 978.2,1196.0 979.5,1194.9 983.0,1191.2 988.8,1186.1 990.0,1185.2 991.0,1184.7 992.0,1184.5 992.8,1184.5 993.5,1184.8 994.2,1185.3 995.2,1186.1 996.2,1187.2 999.8,1191.8 1002.2,1194.7 1006.0,1200.2 1007.8,1202.4 1009.2,1203.7 1010.5,1204.2 1011.2,1204.2 1012.0,1204.0 1013.5,1203.1 1015.0,1201.8 1018.5,1198.3 1020.2,1197.0 1023.8,1195.4 1026.0,1194.5 1028.0,1193.9 1030.0,1193.7 1031.5,1194.0 1033.2,1195.1 1035.0,1196.8 1040.0,1202.1 1041.5,1203.3 1043.0,1204.0 1043.8,1204.2 1044.5,1204.2 1046.0,1203.6 1047.5,1202.6 1051.0,1199.7 1052.5,1198.6 1054.0,1197.9 1054.8,1197.7 1055.5,1197.7 1057.2,1198.2 1059.0,1199.3 1060.8,1200.7 1064.8,1204.2 1066.5,1205.5 1068.2,1206.4 1069.8,1206.7 1072.2,1206.5 1074.8,1205.8 1077.8,1204.6 1084.5,1201.2 1087.2,1200.0 1090.2,1199.0 1093.0,1198.7 1095.0,1198.9 1097.2,1199.7 1099.8,1201.0 1104.8,1204.1 1107.0,1205.3 1109.2,1206.2 1111.5,1206.7 1113.5,1206.6 1115.8,1206.0 1118.2,1205.0 1123.2,1202.6 1125.5,1201.6 1127.8,1201.0 1130.0,1200.7 1131.5,1200.8 1133.2,1201.3 1135.2,1202.1 1141.0,1204.8 1142.8,1205.4 1144.2,1205.7 1145.5,1205.7 1147.0,1205.4 1152.0,1203.3 1153.8,1202.8 1155.2,1202.7 1157.2,1202.9 1159.0,1203.4 1161.0,1204.2 1167.8,1207.6 1170.0,1208.6 1172.2,1209.3 1174.5,1209.7 1180.2,1209.6 1193.2,1208.9 1199.0,1208.7 1206.0,1208.8 1222.5,1209.5 1230.0,1209.7 1252.8,1209.5 1262.8,1209.1 1272.0,1208.7" fill="none" stroke="#86AC4C" stroke-width="6.6" stroke-linejoin="round"/>
<path d="M185.0,1209.0 193.2,1206.9 201.0,1204.7 204.0,1203.6 211.2,1200.5 214.2,1199.5 217.2,1198.7 220.0,1198.5 222.2,1198.8 225.0,1199.8 231.2,1203.2 235.2,1205.1 240.5,1208.0 242.8,1209.1 244.2,1209.6 245.8,1209.9 247.2,1210.0 248.5,1209.8 249.8,1209.4 251.0,1208.7 253.8,1206.7 256.0,1204.7 262.8,1197.9 267.2,1194.2 273.2,1188.8 275.8,1186.7 277.5,1185.4 279.2,1184.4 281.0,1183.8 282.5,1183.5 283.8,1183.5 285.0,1183.8 286.2,1184.4 287.8,1185.2 290.5,1187.3 296.8,1192.9 298.2,1194.0 299.8,1194.9 305.8,1198.0 308.8,1199.3 311.8,1200.2 313.2,1200.3 314.0,1200.2 315.0,1199.7 316.2,1198.5 317.5,1196.8 318.8,1194.7 323.2,1185.6 326.8,1179.0 333.5,1164.4 336.0,1159.9 342.0,1151.0 344.8,1147.2 347.5,1143.9 349.8,1141.8 351.2,1140.8 352.8,1140.2 354.2,1140.0 355.8,1140.2 357.5,1140.7 359.8,1141.8 366.5,1145.6 371.8,1149.2 373.8,1150.1 375.2,1150.5 376.8,1150.4 378.2,1149.7 379.8,1148.6 381.5,1147.0 383.5,1144.6 386.5,1140.8 387.8,1138.8 389.0,1136.2 390.5,1132.7 395.8,1118.4 397.5,1113.9 404.5,1098.8 407.0,1093.9 409.0,1090.7 410.5,1088.6 414.0,1084.7 416.0,1082.6 417.8,1081.3 419.5,1080.5 421.0,1080.3 422.5,1080.6 424.2,1081.2 435.0,1086.1 436.8,1086.5 438.0,1086.4 438.8,1086.0 439.8,1085.3 441.8,1083.2 446.0,1077.4 448.2,1073.7 450.0,1070.2 451.5,1066.6 452.8,1063.3 453.8,1059.8 455.5,1051.8 459.2,1031.7 461.0,1023.4 465.2,1006.0 472.0,980.7 474.0,974.8 477.2,968.1 478.5,965.9 479.5,964.4 480.5,963.3 481.2,962.9 482.2,962.7 483.2,963.0 484.2,963.7 485.5,965.0 487.2,967.3 489.8,971.2 491.5,974.9 494.0,982.1 498.0,995.6 504.0,1020.3 507.8,1037.0 509.5,1043.3 510.2,1045.3 512.5,1050.2 513.8,1052.5 514.8,1053.9 515.8,1054.8 516.5,1055.0 517.2,1054.8 518.2,1054.0 519.5,1052.2 521.0,1049.3 522.8,1045.3 523.8,1042.1 524.8,1037.7 525.8,1032.4 529.2,1011.1 531.2,996.6 533.8,976.1 538.0,934.2 542.0,900.7 545.0,873.8 546.8,861.6 550.5,839.6 552.5,829.0 553.2,825.8 554.0,823.3 556.0,818.5 557.5,815.4 558.8,813.6 559.5,812.9 560.0,812.7 560.8,812.6 561.5,812.9 562.2,813.3 563.0,814.0 564.8,816.3 566.8,819.8 568.2,822.8 569.0,825.0 570.0,828.9 571.0,833.8 574.5,855.1 576.2,868.5 577.5,879.6 582.0,924.5 585.8,960.0 590.8,1002.8 593.2,1021.4 594.8,1030.0 596.8,1038.9 598.5,1045.2 602.8,1059.1 603.8,1061.9 604.8,1063.8 605.2,1064.3 605.8,1064.5 606.2,1064.3 606.8,1063.9 608.0,1062.0 609.2,1059.3 611.8,1053.1 613.2,1048.5 614.8,1043.1 616.5,1035.6 617.5,1030.7 618.8,1023.3 621.2,1005.4 627.0,960.1 639.5,853.7 645.8,805.0 650.2,773.7 653.5,753.0 656.0,739.6 659.8,722.7 661.8,714.8 663.8,707.7 666.0,700.7 668.8,692.9 670.8,687.8 672.8,683.4 674.2,680.7 676.5,677.5 679.0,674.4 681.2,671.9 683.5,670.0 685.5,668.8 690.2,666.9 695.0,665.5 699.2,664.7 703.0,664.5 705.5,664.8 708.0,665.6 710.8,667.0 713.8,668.9 716.2,670.7 717.5,671.9 719.0,674.0 720.8,676.9 723.0,681.4 725.8,687.6 727.0,690.9 728.2,694.6 730.2,701.5 732.8,711.0 734.2,717.2 736.0,725.3 740.0,746.6 743.5,768.6 745.5,783.4 748.2,808.8 749.5,819.2 751.0,829.6 754.8,853.5 758.8,882.6 760.5,897.3 761.5,907.0 764.8,946.3 765.8,957.1 767.0,967.8 768.8,980.6 770.5,992.0 776.2,1027.1 779.2,1044.0 784.8,1069.5 786.2,1074.7 787.0,1076.5 787.5,1077.2 788.0,1077.6 788.2,1077.6 788.8,1077.4 789.2,1077.1 790.2,1075.6 791.2,1073.5 792.5,1069.9 794.0,1064.9 795.8,1058.6 796.8,1054.0 803.0,1015.7 807.0,990.3 810.2,969.2 816.2,928.4 817.5,921.1 820.5,905.6 821.8,898.5 825.2,872.5 826.8,863.4 827.5,860.5 829.5,854.4 831.0,850.3 832.5,846.9 833.8,844.7 834.8,843.4 835.5,842.8 836.0,842.5 837.0,842.5 838.0,843.0 839.2,844.4 840.2,846.1 841.5,848.8 843.2,853.3 845.8,860.6 847.0,865.6 848.5,873.9 852.2,898.5 858.5,934.1 861.2,950.6 872.0,1022.3 874.0,1034.4 875.5,1041.3 878.2,1050.8 880.2,1057.0 881.8,1061.1 883.0,1063.9 884.2,1066.0 885.2,1067.2 886.2,1067.7 887.0,1067.8 888.0,1067.5 889.2,1066.6 890.5,1065.3 891.8,1063.5 894.5,1058.7 899.5,1048.5 900.5,1046.2 902.2,1041.4 906.0,1029.9 907.5,1025.7 912.0,1014.8 913.2,1012.1 914.2,1010.4 915.0,1009.3 915.8,1008.6 917.5,1007.5 919.2,1006.6 920.5,1006.1 921.8,1005.8 923.0,1005.7 924.0,1005.9 925.0,1006.4 926.0,1007.0 928.5,1009.4 932.0,1013.6 933.8,1016.7 935.5,1020.5 940.0,1031.5 950.0,1057.1 957.2,1074.7 959.8,1079.8 962.0,1083.3 964.0,1086.1 966.0,1088.5 967.8,1090.1 971.2,1092.2 974.0,1093.5 975.8,1094.1 977.5,1094.3 979.8,1094.2 986.2,1093.4 987.8,1093.4 989.2,1093.7 992.2,1094.9 996.5,1097.3 998.2,1098.5 1000.2,1100.2 1002.0,1102.1 1004.0,1104.5 1005.8,1106.8 1006.8,1108.5 1009.0,1113.3 1013.5,1124.8 1015.5,1129.4 1018.8,1135.4 1022.0,1140.7 1023.8,1143.2 1025.2,1145.1 1030.2,1150.3 1034.0,1153.8 1035.5,1155.0 1037.0,1156.0 1038.5,1156.7 1040.0,1157.1 1041.5,1157.2 1043.0,1156.9 1044.5,1156.3 1046.2,1155.4 1051.5,1151.6 1053.5,1150.4 1061.5,1146.3 1064.5,1144.9 1067.2,1144.0 1069.8,1143.7 1071.8,1143.9 1073.8,1144.7 1076.0,1146.2 1078.5,1148.2 1083.2,1152.6 1085.2,1154.9 1087.8,1158.6 1094.0,1168.9 1098.5,1175.8 1105.5,1185.9 1108.8,1190.2 1110.8,1192.3 1117.2,1198.2 1120.0,1200.0 1121.2,1200.6 1122.2,1200.9 1123.5,1201.0 1125.0,1200.9 1126.5,1200.4 1128.2,1199.7 1131.2,1197.9 1138.0,1193.1 1139.8,1192.0 1141.2,1191.3 1148.2,1188.6 1152.0,1187.4 1155.5,1186.6 1158.5,1186.4 1160.0,1186.5 1161.8,1186.9 1163.5,1187.4 1165.5,1188.1 1169.2,1190.0 1176.5,1194.2 1179.5,1196.4 1186.5,1202.8 1188.0,1203.9 1189.5,1204.9 1194.5,1207.1 1198.2,1208.6 1201.5,1209.6 1204.5,1210.3 1207.5,1210.6 1210.8,1210.5 1214.5,1210.0 1219.0,1209.2 1226.5,1207.4 1229.0,1206.6 1237.0,1203.4 1239.5,1202.7 1241.8,1202.3 1252.0,1202.4 1259.8,1202.8 1266.8,1203.7 1270.0,1204.3 1273.1,1205.1" fill="none" stroke="#C0532A" stroke-width="6.6" stroke-linejoin="round"/>
<path d="M185.0,1208.0 187.5,1206.2 190.2,1204.6 193.0,1203.3 195.8,1202.2 198.8,1201.4 201.8,1200.9 205.0,1200.6 208.2,1200.5 209.2,1200.6 210.5,1201.0 212.8,1202.0 215.0,1203.4 220.5,1207.4 223.2,1209.0 224.8,1209.6 226.0,1209.9 227.2,1210.0 228.2,1209.9 229.2,1209.5 230.5,1208.9 233.0,1207.2 235.5,1204.8 241.2,1198.9 244.0,1196.5 245.2,1195.7 246.5,1195.1 247.8,1194.6 249.0,1194.5 250.2,1194.7 251.5,1195.1 252.8,1195.8 254.2,1196.9 256.8,1199.3 262.8,1205.7 264.2,1207.2 265.8,1208.4 267.2,1209.3 268.5,1209.8 269.8,1210.0 270.8,1209.9 272.0,1209.4 273.2,1208.6 274.5,1207.4 276.0,1205.6 278.8,1201.6 285.0,1191.2 286.5,1189.1 288.0,1187.2 289.2,1185.8 290.5,1184.9 291.8,1184.2 293.0,1184.0 295.0,1184.3 297.0,1185.1 300.2,1187.0 301.8,1188.3 303.8,1190.9 307.5,1196.8 310.5,1203.0 311.2,1204.1 311.8,1204.5 312.8,1204.5 314.2,1204.2 317.0,1203.2 319.8,1201.7 326.0,1197.8 329.0,1196.3 331.5,1195.6 333.8,1195.4 334.8,1195.6 336.0,1196.2 338.2,1197.7 340.8,1200.0 346.0,1205.5 348.8,1207.9 350.0,1208.7 351.0,1209.1 352.2,1209.5 353.2,1209.5 354.5,1209.1 355.8,1208.2 357.2,1206.7 358.8,1204.7 361.5,1200.1 367.8,1188.3 369.2,1185.7 370.8,1183.6 372.0,1182.1 373.2,1180.9 374.5,1180.2 375.8,1180.0 377.0,1180.3 378.2,1181.0 379.5,1182.1 381.0,1183.8 383.8,1188.0 389.8,1198.2 391.2,1200.5 392.8,1202.4 394.0,1203.7 395.2,1204.6 396.5,1205.1 397.5,1205.1 398.2,1204.6 399.0,1203.4 400.5,1199.7 402.2,1193.6 405.8,1179.4 407.2,1173.9 415.2,1150.8 417.0,1146.5 418.8,1143.1 419.5,1142.1 420.2,1141.3 421.0,1140.8 421.8,1140.6 422.2,1140.7 422.8,1140.9 424.0,1142.2 425.2,1144.4 426.5,1147.2 431.5,1161.1 434.8,1169.5 440.2,1187.2 442.2,1193.1 444.2,1197.8 445.2,1199.6 446.2,1200.8 447.2,1201.4 448.2,1201.4 449.5,1200.9 451.0,1199.7 452.2,1198.2 453.5,1196.5 458.8,1187.8 461.0,1184.6 462.2,1183.2 463.2,1182.3 464.5,1181.6 465.5,1181.5 466.5,1181.7 467.8,1182.4 469.0,1183.5 470.2,1185.0 472.8,1188.8 478.5,1198.5 480.0,1200.7 481.2,1202.2 482.8,1203.5 484.0,1204.2 484.8,1204.3 485.2,1204.3 486.2,1203.6 487.0,1202.7 488.0,1201.0 489.8,1196.8 491.8,1190.6 494.8,1180.0 495.5,1176.7 496.2,1172.4 499.5,1149.9 500.2,1145.4 501.0,1141.9 504.2,1130.2 506.5,1123.1 508.5,1117.9 509.5,1115.8 510.5,1114.2 511.2,1113.3 512.0,1112.8 512.8,1112.5 513.2,1112.5 513.8,1112.7 514.5,1113.2 516.0,1115.0 521.8,1124.7 523.2,1127.8 528.0,1138.7 529.5,1141.4 530.8,1143.0 531.5,1143.5 532.0,1143.7 532.5,1143.8 532.8,1143.6 533.5,1141.9 534.5,1137.4 536.0,1127.7 538.5,1108.5 541.5,1077.0 543.5,1058.0 544.2,1049.4 545.8,1024.6 550.0,940.4 552.0,907.2 553.5,888.3 556.5,862.5 557.5,851.9 560.0,812.5 561.0,800.3 563.2,778.7 564.8,766.2 566.0,757.1 567.5,748.9 569.0,741.6 570.0,737.9 571.0,735.5 572.2,734.0 573.5,732.8 574.5,732.2 575.5,732.0 576.5,732.1 577.8,732.6 581.5,734.7 583.0,735.4 584.5,735.7 585.8,735.5 587.2,734.8 589.0,733.4 590.8,731.5 592.8,728.9 593.5,727.1 594.5,723.7 596.8,714.1 600.8,698.2 603.8,684.8 605.0,680.3 606.0,677.8 608.8,672.8 610.5,670.5 611.2,669.9 612.0,669.5 613.0,669.4 614.0,669.9 615.2,671.1 616.5,672.9 618.2,676.0 622.0,683.5 624.8,688.4 630.0,700.0 632.0,704.0 633.2,706.0 634.5,707.5 635.8,708.4 636.8,708.6 637.5,708.4 638.5,707.8 639.5,706.8 640.5,705.6 642.2,702.8 646.8,695.1 650.0,690.6 655.8,681.6 658.2,678.1 660.0,676.1 661.5,674.8 663.0,674.0 664.2,673.7 665.5,673.8 666.8,674.3 668.2,675.3 670.0,676.9 676.2,683.3 683.0,691.9 684.5,693.6 686.0,695.0 691.0,698.7 693.8,700.4 696.2,701.5 697.5,701.8 698.8,701.9 701.0,701.6 703.2,700.7 705.8,699.3 709.5,696.8 710.8,695.7 712.0,694.2 717.8,686.6 724.5,679.4 726.8,677.1 728.8,675.5 730.8,674.3 731.8,673.9 732.8,673.7 733.5,673.7 734.2,673.9 735.2,674.3 736.2,675.1 738.5,677.6 743.8,685.3 747.2,689.8 751.8,696.5 753.8,699.2 755.0,700.5 756.2,701.4 757.5,701.9 758.5,701.8 759.5,701.4 760.8,700.4 762.0,699.0 763.2,697.2 768.8,688.0 772.2,682.8 777.2,674.0 779.2,670.9 780.5,669.4 781.8,668.2 782.8,667.6 783.8,667.4 784.8,667.6 786.0,668.2 787.0,669.1 788.2,670.6 789.5,672.5 790.8,674.6 793.5,680.4 794.0,682.1 794.8,685.5 797.2,698.9 799.0,705.6 806.0,729.4 807.5,733.4 810.2,739.1 811.8,741.6 812.5,742.4 813.0,742.7 813.8,742.9 819.8,743.1 823.5,743.8 825.0,744.4 826.2,745.1 827.8,746.4 829.0,747.6 829.5,748.4 830.2,749.9 831.5,753.6 833.5,761.3 834.5,766.2 836.2,777.5 838.5,795.3 843.0,840.0 844.2,853.7 845.5,871.4 853.0,988.3 856.2,1031.5 859.0,1063.5 862.0,1092.2 864.2,1110.6 865.8,1119.7 868.0,1130.3 869.5,1136.7 871.0,1141.6 871.8,1143.3 872.2,1144.2 872.8,1144.7 873.2,1144.9 874.0,1144.8 875.0,1144.4 876.0,1143.8 877.0,1142.8 879.0,1140.4 881.0,1137.4 886.0,1129.2 887.5,1127.0 889.0,1125.2 890.8,1123.6 892.2,1123.0 893.0,1122.9 893.5,1123.1 894.5,1124.0 895.2,1125.1 896.2,1127.2 898.2,1132.9 903.8,1152.8 906.8,1162.5 911.5,1179.4 913.2,1184.8 914.5,1188.1 919.0,1198.0 920.8,1201.3 922.5,1203.7 923.8,1204.7 924.8,1204.9 925.5,1204.8 926.5,1204.5 928.2,1203.5 929.8,1202.2 931.5,1200.3 937.8,1192.3 940.2,1189.5 941.8,1188.2 943.0,1187.3 944.2,1186.8 945.2,1186.6 946.5,1186.7 947.8,1187.1 949.0,1187.8 950.5,1188.9 953.2,1191.5 959.2,1198.0 961.0,1199.6 962.5,1200.7 964.0,1201.5 965.5,1201.9 966.8,1201.9 967.8,1201.5 968.8,1200.6 970.0,1199.1 971.2,1197.0 972.5,1194.7 978.5,1181.4 982.8,1173.1 987.8,1161.8 990.0,1157.2 991.5,1154.8 992.8,1153.4 994.0,1152.5 995.0,1152.3 996.0,1152.5 997.2,1153.2 998.2,1154.0 999.5,1155.4 1002.0,1158.9 1005.8,1165.2 1006.8,1167.6 1007.8,1170.4 1012.0,1184.5 1013.0,1187.2 1014.0,1189.2 1018.0,1195.6 1020.8,1199.2 1022.0,1200.6 1023.2,1201.6 1024.5,1202.4 1025.5,1202.7 1026.8,1202.8 1028.0,1202.6 1029.5,1202.0 1031.0,1201.2 1034.2,1198.8 1041.0,1192.6 1044.0,1190.2 1045.5,1189.3 1047.0,1188.5 1048.5,1188.1 1049.8,1188.0 1051.0,1188.1 1052.5,1188.6 1054.0,1189.4 1055.5,1190.5 1057.2,1192.0 1059.0,1193.7 1066.5,1202.1 1069.8,1205.4 1071.5,1206.8 1073.2,1207.9 1074.8,1208.6 1076.2,1208.9 1078.5,1208.7 1081.2,1207.8 1084.0,1206.4 1089.8,1202.7 1092.2,1201.3 1094.8,1200.2 1097.0,1199.7 1099.8,1199.8 1103.0,1200.4 1106.0,1201.3 1113.2,1203.7 1117.0,1204.7 1119.0,1205.0 1120.8,1205.1 1122.2,1205.0 1123.8,1204.8 1126.5,1203.9 1129.8,1202.5 1132.8,1200.8 1140.2,1196.3 1144.0,1194.4 1146.0,1193.6 1147.8,1193.0 1149.5,1192.7 1151.0,1192.6 1152.0,1192.7 1153.2,1192.9 1154.5,1193.4 1156.0,1194.2 1160.8,1197.3 1165.2,1199.9 1172.8,1205.1 1176.2,1207.3 1179.2,1208.6 1182.0,1209.2 1184.5,1209.2 1187.5,1208.7 1190.8,1207.8 1199.5,1204.6 1202.2,1204.0 1204.5,1203.7 1207.5,1203.8 1210.8,1204.5 1214.2,1205.6 1221.8,1208.4 1225.0,1209.5 1228.2,1210.3 1231.2,1210.6 1233.8,1210.4 1236.2,1209.7 1239.0,1208.6 1246.5,1205.1 1248.8,1204.3 1251.0,1203.8 1257.0,1203.7 1263.5,1203.9 1268.5,1204.4 1273.1,1205.1" fill="none" stroke="#4677C0" stroke-width="6.6" stroke-linejoin="round"/>
<path d="M185.0,1210.7 189.0,1210.6 192.8,1210.3 196.8,1209.8 200.8,1209.2 205.0,1208.3 209.5,1207.1 227.2,1201.9 235.0,1200.0 239.2,1199.2 243.2,1198.6 247.2,1198.2 251.0,1198.1 255.0,1198.2 259.0,1198.6 263.0,1199.2 267.2,1200.1 275.0,1202.2 292.2,1207.6 296.8,1208.8 300.8,1209.7 305.0,1210.3 309.0,1210.7 313.0,1210.7 317.0,1210.3 320.8,1209.7 324.8,1208.7 328.8,1207.5 333.0,1205.8 340.5,1202.2 357.2,1193.2 361.5,1191.2 365.5,1189.6 369.5,1188.2 373.2,1187.3 377.0,1186.8 380.5,1186.6 384.5,1186.8 388.8,1187.5 393.0,1188.8 397.2,1190.4 401.0,1192.2 405.2,1194.5 418.2,1202.4 422.8,1205.0 427.0,1207.2 430.8,1208.7 434.8,1209.9 438.5,1210.6 442.2,1210.7 445.8,1210.2 448.2,1209.6 450.5,1208.8 452.8,1207.8 455.2,1206.3 457.8,1204.6 460.2,1202.7 462.8,1200.4 465.2,1198.0 469.5,1193.3 474.2,1187.5 478.8,1181.5 489.0,1167.5 493.8,1161.3 498.5,1155.7 502.8,1151.5 506.8,1148.2 508.8,1146.9 510.5,1146.0 512.5,1145.1 514.2,1144.6 516.2,1144.2 518.0,1144.1 520.2,1144.2 522.2,1144.7 524.5,1145.5 526.8,1146.6 529.0,1148.1 531.2,1150.0 533.5,1152.1 536.0,1154.8 540.0,1159.9 544.5,1166.4 548.8,1173.1 558.2,1188.8 563.0,1196.1 565.2,1199.3 567.5,1202.1 569.8,1204.7 571.8,1206.6 574.0,1208.4 576.2,1209.7 578.5,1210.5 580.5,1210.7 582.5,1210.4 584.5,1209.7 586.5,1208.3 588.2,1206.7 590.2,1204.3 592.0,1201.7 593.8,1198.7 595.5,1195.1 597.5,1190.5 599.2,1185.9 602.8,1175.2 606.2,1162.5 610.0,1146.6 613.8,1128.6 617.5,1108.4 620.5,1090.9 623.8,1070.6 627.2,1047.4 630.8,1023.0 637.2,975.3 652.2,861.4 659.8,807.7 663.2,784.4 666.8,762.6 670.0,743.9 673.2,726.9 676.5,711.6 679.5,699.3 682.5,688.8 685.5,680.1 687.0,676.5 688.5,673.4 690.0,670.8 691.2,669.0 692.8,667.3 694.2,666.1 695.8,665.4 697.0,665.2 697.8,665.3 698.8,665.6 700.2,666.4 701.8,667.8 703.5,670.1 705.0,672.6 706.8,676.1 708.2,679.7 710.0,684.5 713.2,695.1 716.8,708.9 720.2,725.0 723.8,743.1 726.8,760.2 729.8,778.5 736.2,821.6 742.5,866.4 758.0,981.2 762.2,1011.4 766.2,1038.7 770.2,1064.5 774.2,1088.6 778.0,1109.5 781.8,1128.6 785.2,1144.6 788.5,1157.9 791.8,1169.6 795.2,1180.6 798.8,1189.7 800.5,1193.6 802.2,1197.1 804.0,1200.1 805.8,1202.8 807.5,1205.0 809.2,1206.9 811.2,1208.5 813.2,1209.7 815.2,1210.4 817.5,1210.7 819.8,1210.5 822.0,1209.8 824.2,1208.7 826.8,1207.0 829.0,1205.1 831.2,1202.9 833.5,1200.4 836.0,1197.4 841.0,1190.8 851.5,1175.8 856.0,1169.6 861.0,1163.4 865.5,1158.5 868.2,1156.0 870.8,1153.9 873.2,1152.2 875.8,1150.8 878.2,1149.7 880.5,1149.0 883.0,1148.6 885.5,1148.5 887.5,1148.6 889.5,1148.9 891.5,1149.4 893.5,1150.2 895.5,1151.1 897.8,1152.3 902.2,1155.3 907.0,1159.3 912.0,1164.2 917.5,1170.1 929.0,1183.1 934.0,1188.6 939.5,1194.2 944.5,1198.7 947.5,1201.1 950.2,1203.1 953.2,1205.0 956.0,1206.6 958.8,1207.8 961.5,1208.9 964.2,1209.7 967.0,1210.3 971.0,1210.7 975.2,1210.6 979.5,1210.0 984.0,1209.0 988.5,1207.6 993.5,1205.6 998.5,1203.4 1013.8,1196.2 1018.5,1194.2 1023.0,1192.5 1028.2,1190.9 1033.2,1189.8 1038.2,1189.2 1043.0,1189.0 1047.2,1189.1 1051.5,1189.6 1056.0,1190.4 1060.8,1191.6 1065.2,1193.0 1070.2,1194.8 1090.5,1202.9 1099.8,1206.2 1104.8,1207.7 1109.8,1208.9 1114.5,1209.8 1119.2,1210.4 1124.0,1210.7 1128.8,1210.7 1133.8,1210.4 1139.0,1209.8 1144.0,1209.1 1149.2,1208.1 1170.5,1203.3 1180.0,1201.5 1185.2,1200.7 1190.2,1200.1 1195.2,1199.8 1200.0,1199.7 1204.5,1199.8 1209.2,1200.0 1214.0,1200.5 1219.0,1201.1 1228.8,1202.8 1248.0,1206.7 1256.2,1208.2 1265.2,1209.6 1273.5,1210.3" fill="none" stroke="#000000" stroke-width="6.6" stroke-linejoin="round"/>
<line x1="184.0" y1="696.00" x2="1274.3" y2="696.00" stroke="#E4AF82" stroke-width="7.4" stroke-dasharray="29.4 22.04" stroke-dashoffset="21.20"/>
<line x1="184.0" y1="724.30" x2="1274.3" y2="724.30" stroke="#643C96" stroke-width="7.4" stroke-dasharray="29.4 22.04" stroke-dashoffset="21.20"/>
<line x1="210.2" y1="873.10" x2="284.2" y2="873.10" stroke="#000000" stroke-width="6.8"/>
<text class="lg" transform="translate(292.7,879.90) scale(0.93,1)">PP</text>
<line x1="210.2" y1="918.00" x2="284.2" y2="918.00" stroke="#86AC4C" stroke-width="6.8"/>
<text class="lg" transform="translate(292.7,925.50) scale(1.04,1)">Adiabatic</text>
<line x1="210.2" y1="964.50" x2="284.2" y2="964.50" stroke="#C0532A" stroke-width="6.8"/>
<text class="lg" transform="translate(292.7,969.90) scale(1.013,1)">DMCS</text>
<line x1="210.2" y1="1009.50" x2="284.2" y2="1009.50" stroke="#4677C0" stroke-width="6.8"/>
<text class="lg" transform="translate(292.7,1013.60) scale(0.953,1)">CL-DMCS</text>
<text class="yl" transform="translate(100.5,947.95) rotate(-90)" text-anchor="middle">Conversion efficiency (%)</text>
<text class="xl" x="698" y="1294.70" text-anchor="middle">Wavelength (nm)</text>
<text class="pl" transform="translate(2,693.70) scale(0.97,1)">(b)</text>
</svg>
</body></html>
